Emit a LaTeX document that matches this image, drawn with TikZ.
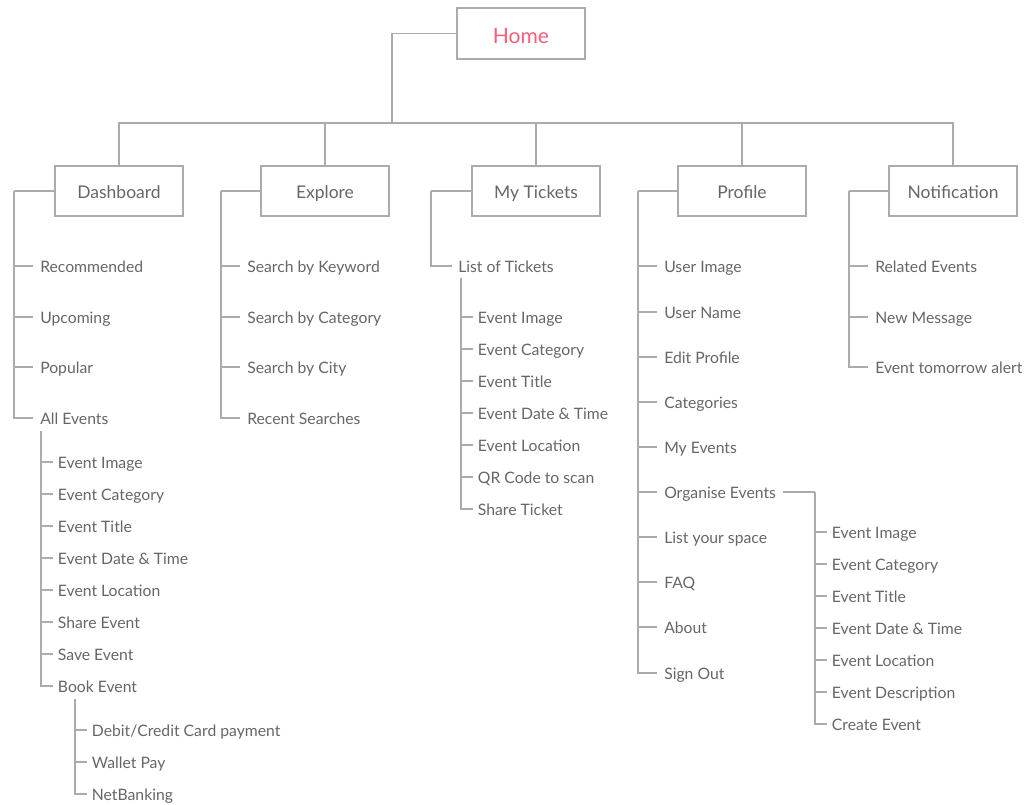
\documentclass[tikz,border=0pt]{standalone}
\usepackage{fontspec}
\setmainfont{Lato}
\definecolor{ln}{HTML}{ABABAB}
\definecolor{tx}{HTML}{666666}
\definecolor{hm}{HTML}{F2607A}
\begin{document}
\begin{tikzpicture}[x=0.75pt,y=-0.75pt,
  box/.style={draw=ln, line width=0.9pt, fill=white, minimum width=96pt, minimum height=37.5pt,
    inner sep=0pt, text height=11.7pt, text depth=0pt, text=tx, font=\fontsize{13.1}{15}\selectfont},
  item/.style={anchor=west, inner xsep=5.25pt, inner ysep=0pt, text height=10.2pt, text depth=0pt,
    text=tx, font=\fontsize{11.8}{14}\selectfont},
  sub/.style={item, inner xsep=3.5pt},
  conn/.style={draw=ln, line width=0.8pt}]
\useasboundingbox (0,0) rectangle (1024,804);

% top level
\node[box, minimum height=38.25pt, text height=14.7pt, text=hm, font=\fontsize{15.8}{18}\selectfont] (home) at (521,33.5) {Home};
\node[box] (dash) at (119,191) {Dashboard};
\node[box] (expl) at (325,191) {Explore};
\node[box] (tick) at (536,191) {My Tickets};
\node[box] (prof) at (742,191) {Profile};
\node[box] (noti) at (953,191) {Notification};

\coordinate (bus) at (392,123);
\draw[conn] (home.west) -| (bus);
\foreach \n in {dash,expl,tick,prof,noti} { \draw[conn] (\n.north) |- (bus); }

% Dashboard
\coordinate (dT) at (14,191);
\draw[conn] (dash.west) -- (dT);
\foreach \y/\t [count=\i] in {266/Recommended,317/Upcoming,367/Popular,418/All Events} {
  \node[item] (d\i) at (33,\y) {\t};
  \draw[conn] (dT) |- (d\i.west);
}
\coordinate (aT) at (41,431);
\foreach \y/\t [count=\i] in {462/Event Image,494/Event Category,526/Event Title,558/Event Date \& Time,590/Event Location,622/Share Event,654/Save Event,686/Book Event} {
  \node[sub] (a\i) at (53,\y) {\t};
  \draw[conn] (aT) |- (a\i.west);
}
\coordinate (bT) at (75,699);
\foreach \y/\t [count=\i] in {730/{Debit/Credit Card payment},762/Wallet Pay,794/NetBanking} {
  \node[sub] (b\i) at (87,\y) {\t};
  \draw[conn] (bT) |- (b\i.west);
}

% Explore
\coordinate (eT) at (221,191);
\draw[conn] (expl.west) -- (eT);
\foreach \y/\t [count=\i] in {266/Search by Keyword,317/Search by Category,367/Search by City,418/Recent Searches} {
  \node[item] (e\i) at (240,\y) {\t};
  \draw[conn] (eT) |- (e\i.west);
}

% My Tickets
\coordinate (tT) at (431,191);
\draw[conn] (tick.west) -- (tT);
\node[item, inner xsep=4.5pt] (lt) at (452,266) {List of Tickets};
\draw[conn] (tT) |- (lt.west);
\coordinate (lT) at (461,278);
\foreach \y/\t [count=\i] in {317/Event Image,349/Event Category,381/Event Title,413/Event Date \& Time,445/Event Location,477/QR Code to scan,509/Share Ticket} {
  \node[sub] (l\i) at (473,\y) {\t};
  \draw[conn] (lT) |- (l\i.west);
}

% Profile
\coordinate (pT) at (638,191);
\draw[conn] (prof.west) -- (pT);
\foreach \y/\t [count=\i] in {266/User Image,312/User Name,357/Edit Profile,402/Categories,447/My Events,492/Organise Events,537/List your space,582/FAQ,627/About,673/Sign Out} {
  \node[item] (p\i) at (657,\y) {\t};
  \draw[conn] (pT) |- (p\i.west);
}
\coordinate (oT) at (815,492);
\draw[conn] (p6.east) -- (oT);
\foreach \y/\t [count=\i] in {532/Event Image,564/Event Category,596/Event Title,628/Event Date \& Time,660/Event Location,692/Event Description,724/Create Event} {
  \node[sub] (o\i) at (827,\y) {\t};
  \draw[conn] (oT) |- (o\i.west);
}

% Notification
\coordinate (nT) at (849,191);
\draw[conn] (noti.west) -- (nT);
\foreach \y/\t [count=\i] in {266/Related Events,317/New Message,367/Event tomorrow alert} {
  \node[item] (n\i) at (868,\y) {\t};
  \draw[conn] (nT) |- (n\i.west);
}
\end{tikzpicture}
\end{document}
